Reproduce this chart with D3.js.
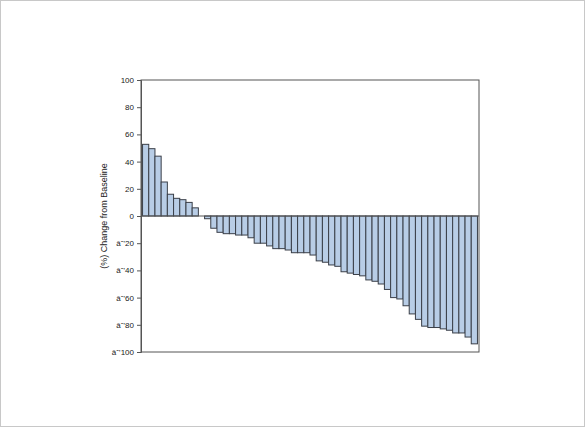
<!DOCTYPE html><html><head><script src="https://cdn.jsdelivr.net/npm/d3@7"></script>
<style>body{margin:0}</style></head><body><script>
const values=[52.7,49.5,44,25,16,13,12,10,6,0,-2,-9,-12,-13,-13,-14,-14,-16,-20,-20,-22,-24,-24,-25,-27,-27,-27,-28.7,-33,-34,-36,-37,-41,-42,-43,-44,-47,-48,-50,-54,-60,-61,-66,-72,-76,-81,-82,-82,-83,-84,-86,-86,-89,-94];
const ticks=[-100,-80,-60,-40,-20,0,20,40,60,80,100];
const W=585,H=427,L=141,R=479,T=80,B=352;
const svg=d3.select("body").append("svg").attr("width",W).attr("height",H);
svg.append("rect").attr("x",0.5).attr("y",0.5).attr("width",W-1).attr("height",H-1).attr("fill","#fff").attr("stroke","#c8c8c8");
const x=d3.scaleBand().domain(d3.range(values.length)).range([L,R]).paddingInner(0).paddingOuter(0.25);
const y=d3.scaleLinear().domain([-100,100]).range([B,T]);
svg.append("rect").attr("x",L).attr("y",T).attr("width",R-L).attr("height",B-T).attr("fill","none").attr("stroke","#555");
svg.selectAll(".b").data(values).join("rect").attr("x",(d,i)=>x(i)).attr("width",x.bandwidth())
 .attr("y",d=>y(Math.max(0,d))).attr("height",d=>Math.abs(y(d)-y(0)))
 .attr("fill","#b8cde6").attr("stroke","#3a3f48").attr("stroke-width",1).attr("display",d=>d===0?"none":null);
svg.append("line").attr("x1",L).attr("x2",R).attr("y1",y(0)).attr("y2",y(0)).attr("stroke","#555");
const ax=svg.append("g").attr("transform",`translate(${L},0)`).call(d3.axisLeft(y).tickValues(ticks).tickSize(4).tickFormat(d3.format("d")));
ax.selectAll("text").attr("font-family","Liberation Sans, Arial").attr("font-size",8).attr("fill","#222");
ax.selectAll("line,path").attr("stroke","#555");
svg.append("text").attr("transform",`translate(107,${(T+B)/2}) rotate(-90)`).attr("text-anchor","middle")
 .attr("font-family","Liberation Sans, Arial").attr("font-size",9).attr("fill","#222").text("(%) Change from Baseline");
</script></body></html>
